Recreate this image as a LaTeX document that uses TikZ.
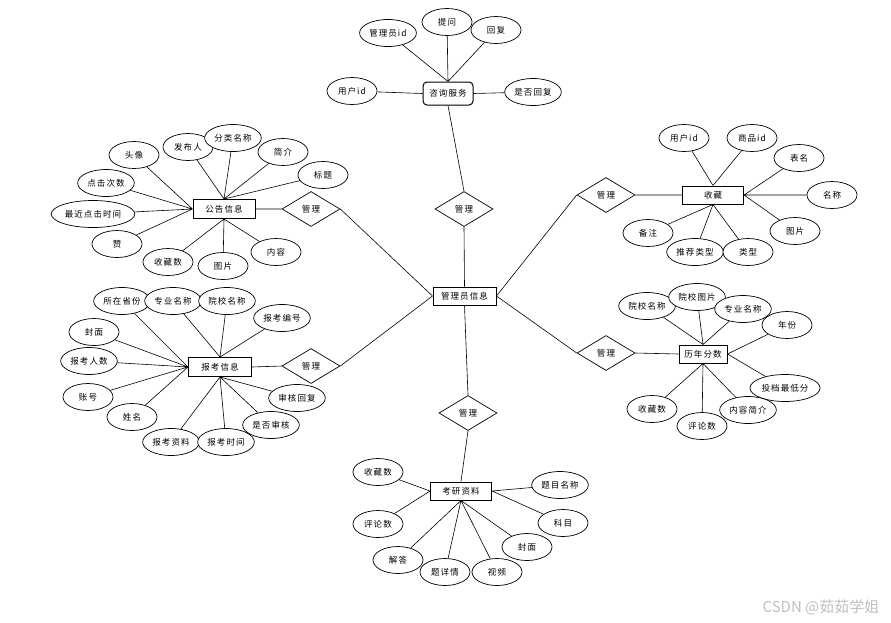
\documentclass[tikz,border=0pt]{standalone}
\usepackage{fontspec}
\setmainfont{Noto Sans CJK SC}[LetterSpace=12]
\newfontfamily\wmfont{Noto Sans CJK SC}
\usetikzlibrary{shapes.geometric}
\tikzset{
	every node/.style={font=\fontsize{8.5}{10}\selectfont},
	entity/.style={draw, line width=1pt, rectangle, fill=white, minimum height=18pt, inner sep=1pt},
	attr/.style={draw, line width=0.7pt, ellipse, fill=white, minimum width=50pt, minimum height=27pt, inner xsep=1.5pt, inner ysep=0pt},
	rel/.style={draw, line width=0.7pt, diamond, aspect=1.65, fill=white, minimum width=58pt, minimum height=35pt, inner sep=0pt},
	link/.style={line width=0.6pt},
}
\begin{document}
\begin{tikzpicture}[x=1pt, y=-1pt]
	\useasboundingbox (0,0) rectangle (891,622);
	% entities
	\node [entity, rounded corners=4pt, minimum width=50pt, minimum height=23pt] (consult) at (448,93.5) {咨询服务};
	\node [entity, minimum width=63pt] (admin) at (464.5,296) {管理员信息};
	\node [entity, minimum width=62pt, minimum height=19pt] (notice) at (224,209) {公告信息};
	\node [entity, minimum width=61pt] (collect) at (713,195) {收藏};
	\node [entity, minimum width=63pt, minimum height=19pt] (apply) at (220,367) {报考信息};
	\node [entity, minimum width=48pt] (score) at (703,354) {历年分数};
	\node [entity, minimum width=61pt] (material) at (461,491) {考研资料};
	% relations
	\node [rel] (rc) at (464,209) {管理};
	\node [rel] (rn) at (311,209) {管理};
	\node [rel] (rk) at (606,195) {管理};
	\node [rel] (ra) at (311,366) {管理};
	\node [rel] (rs) at (606,353) {管理};
	\node [rel] (rm) at (468,413) {管理};
	\draw [link] (consult.south) -- (rc.north) (rc.south) -- (admin.north);
	\draw [link] (notice.east) -- (rn.west) (rn.east) -- (admin.west);
	\draw [link] (collect.west) -- (rk.east) (rk.west) -- (admin.east);
	\draw [link] (apply.east) -- (ra.west) (ra.east) -- (admin.west);
	\draw [link] (score.west) -- (rs.east) (rs.west) -- (admin.east);
	\draw [link] (admin.south) -- (rm.north) (rm.south) -- (material.north);
	% consult
	\node [attr] (c1) at (388,33) {管理员id};
	\node [attr] (c2) at (447,22) {提问};
	\node [attr] (c3) at (496,30) {回复};
	\node [attr] (c4) at (352,91) {用户id};
	\node [attr] (c5) at (533,92) {是否回复};
	\draw [link] (c1) -- (consult.north) (c2) -- (consult.north) (c3) -- (consult.north);
	\draw [link] (c4) -- (consult.west) (c5) -- (consult.east);
	% notice
	\node [attr] (n1) at (134,155) {头像};
	\node [attr] (n2) at (106,183) {点击次数};
	\node [attr] (n3) at (93,214) {最近点击时间};
	\node [attr] (n4) at (117,244) {赞};
	\node [attr] (n5) at (188,147) {发布人};
	\node [attr] (n6) at (233,138) {分类名称};
	\node [attr] (n7) at (283,152) {简介};
	\node [attr] (n8) at (323,175) {标题};
	\node [attr] (n9) at (168,262) {收藏数};
	\node [attr] (n10) at (223,266) {图片};
	\node [attr] (n11) at (276,252) {内容};
	\draw [link] (n1) -- (notice.west) (n2) -- (notice.west) (n3) -- (notice.west) (n4) -- (notice.west);
	\draw [link] (n5) -- (notice.north) (n6) -- (notice.north) (n7) -- (notice.north) (n8) -- (notice.north);
	\draw [link] (n9) -- (notice.south) (n10) -- (notice.south) (n11) -- (notice.south);
	% collect
	\node [attr] (k1) at (684,138) {用户id};
	\node [attr] (k2) at (752,138) {商品id};
	\node [attr] (k3) at (799,158) {表名};
	\node [attr] (k4) at (832,195) {名称};
	\node [attr] (k5) at (795,231) {图片};
	\node [attr] (k6) at (695,252) {推荐类型};
	\node [attr] (k7) at (748,252) {类型};
	\node [attr] (k8) at (648,233) {备注};
	\draw [link] (k1) -- (collect.north) (k2) -- (collect.north);
	\draw [link] (k3) -- (collect.east) (k4) -- (collect.east) (k5) -- (collect.east);
	\draw [link] (k6) -- (collect.south) (k7) -- (collect.south) (k8) -- (collect.south);
	% apply
	\node [attr] (a1) at (122,301) {所在省份};
	\node [attr] (a2) at (173,301) {专业名称};
	\node [attr] (a3) at (227,301) {院校名称};
	\node [attr] (a4) at (282,318) {报考编号};
	\node [attr] (a5) at (94,332) {封面};
	\node [attr] (a6) at (89,361) {报考人数};
	\node [attr] (a7) at (88,397) {账号};
	\node [attr] (a8) at (132,417) {姓名};
	\node [attr] (a9) at (171,442) {报考资料};
	\node [attr] (a10) at (226,442) {报考时间};
	\node [attr] (a11) at (271,425) {是否审核};
	\node [attr] (a12) at (297,398) {审核回复};
	\draw [link] (a1) -- (apply.west) (a5) -- (apply.west) (a6) -- (apply.west) (a7) -- (apply.west) (a8) -- (apply.west);
	\draw [link] (a2) -- (apply.north) (a3) -- (apply.north) (a4) -- (apply.north);
	\draw [link] (a9) -- (apply.south) (a10) -- (apply.south) (a11) -- (apply.south) (a12) -- (apply.south);
	% score
	\node [attr] (s1) at (647,306) {院校名称};
	\node [attr] (s2) at (697,297) {院校图片};
	\node [attr] (s3) at (743,309) {专业名称};
	\node [attr] (s4) at (787,325) {年份};
	\node [attr] (s5) at (785,388) {投档最低分};
	\node [attr] (s6) at (748,410) {内容简介};
	\node [attr] (s7) at (702,426) {评论数};
	\node [attr] (s8) at (652,409) {收藏数};
	\draw [link] (s1) -- (score.north) (s2) -- (score.north) (s3) -- (score.north);
	\draw [link] (s4) -- (score.east) (s5) -- (score.east);
	\draw [link] (s6) -- (score.south) (s7) -- (score.south) (s8) -- (score.south);
	% material
	\node [attr] (m1) at (378,472) {收藏数};
	\node [attr] (m2) at (378,524) {评论数};
	\node [attr] (m3) at (398,560) {解答};
	\node [attr] (m4) at (445,572) {题详情};
	\node [attr] (m5) at (497,572) {视频};
	\node [attr] (m6) at (527,547) {封面};
	\node [attr] (m7) at (563,523) {科目};
	\node [attr] (m8) at (560,485) {题目名称};
	\draw [link] (m1) -- (material.west) (m2) -- (material.west);
	\draw [link] (m3) -- (material.south) (m4) -- (material.south) (m5) -- (material.south) (m6) -- (material.south);
	\draw [link] (m7) -- (material.east) (m8) -- (material.east);
	\node [text=black!25, font=\wmfont\fontsize{15}{16}\selectfont] (wm) at (821,607) {CSDN @茹茹学姐};
\end{tikzpicture}
\end{document}
